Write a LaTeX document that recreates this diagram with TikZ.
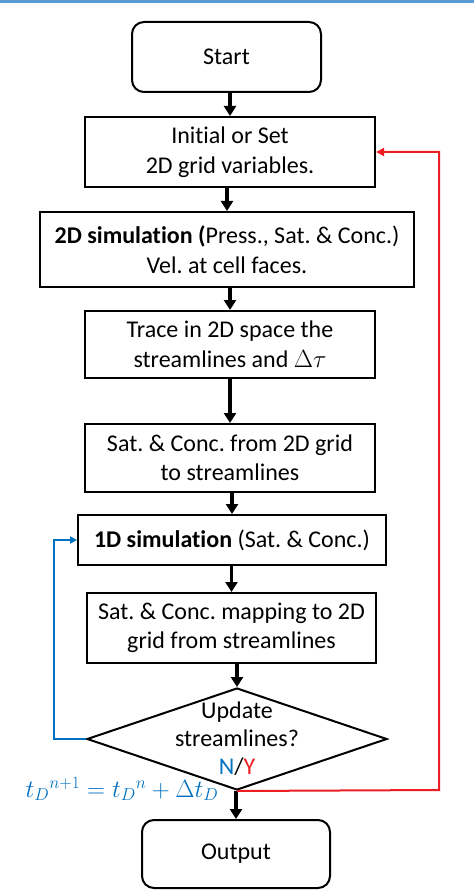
\documentclass[tikz,border=0pt]{standalone}
\usepackage{fontspec}
\setmainfont{Carlito}[Ligatures=NoCommon]
\usepackage{tikz}
\usetikzlibrary{positioning,calc,shapes.geometric,arrows.meta}
\definecolor{loopblue}{RGB}{0, 112, 192}
\definecolor{loopred}{RGB}{235, 30, 35}
\definecolor{bandblue}{RGB}{91, 155, 213}
\frenchspacing

\begin{document}
\begin{tikzpicture}[x=1pt,y=-1pt,
        box/.style={draw,line width=2pt,align=center,inner sep=0pt,font=\fontsize{24}{29.5}\selectfont},
        term/.style={box,rounded corners=12pt},
        decision/.style={draw,diamond,line width=2pt,inner sep=0pt,minimum width=300pt,minimum height=102pt},
        flow/.style={line width=3.4pt,-{Triangle[width=12pt,length=10pt]}}]
        % Frame
        \useasboundingbox (0,0) rectangle (474,890);
        \fill[bandblue] (0,0) rectangle (474,3);
        
        % Steps
        \node[term,minimum width=189pt,minimum height=70pt] (start) at (226.5,57) {Start};
        \node[box,minimum width=290pt,minimum height=70pt] (init) at (230,152) {Initial or Set\\2D grid variables.};
        \node[box,minimum width=374pt,minimum height=75pt] (sim2d) at (227,249.5) {\textbf{2D simulation (}Press., Sat. \& Conc.)\\Vel. at cell faces.};
        \node[box,minimum width=290pt,minimum height=67pt] (trace) at (230,344.5) {Trace in 2D space the\\streamlines and $\Delta\tau$};
        \node[box,minimum width=290pt,minimum height=68pt] (satgrid) at (230,458) {Sat. \& Conc. from 2D grid\\to streamlines};
        \node[box,minimum width=308pt,minimum height=50pt] (sim1d) at (232,540) {\textbf{1D simulation} (Sat. \& Conc.)};
        \node[box,minimum width=289pt,minimum height=70pt] (mapping) at (231.5,628) {Sat. \& Conc. mapping to 2D\\grid from streamlines};
        \node[decision] (upd) at (237,739) {};
        \node[align=center,inner sep=0pt,font=\fontsize{24}{28}\selectfont] (updtext) at (upd.center) {Update\\streamlines?\\{\color{loopblue}N}/{\color{loopred}Y}};
        \node[term,minimum width=188pt,minimum height=68pt] (output) at (236,854) {Output};
        
        % Time step
        \node[loopblue,font=\fontsize{25}{30}\selectfont] (tstep) at (122,789) {$t_D{}^{n+1}=t_D{}^{n}+\Delta t_D$};
        
        % Arrows
        \foreach \a/\b in {start/init,init/sim2d,sim2d/trace,trace/satgrid,satgrid/sim1d,sim1d/mapping,mapping/upd,upd/output}
            \draw[flow] (\b.north |- \a.south) -- (\b.north);
        
        % Loops
        \draw[loopblue,line width=2pt,-{Triangle[width=7pt,length=7pt]}] (upd.west) -- ++(-32,0) |- (sim1d.west);
        \draw[loopred,line width=2pt,-{Triangle[width=8pt,length=8pt]}] (upd.south) -- (439,790) |- (init.east);
\end{tikzpicture}
\end{document}
